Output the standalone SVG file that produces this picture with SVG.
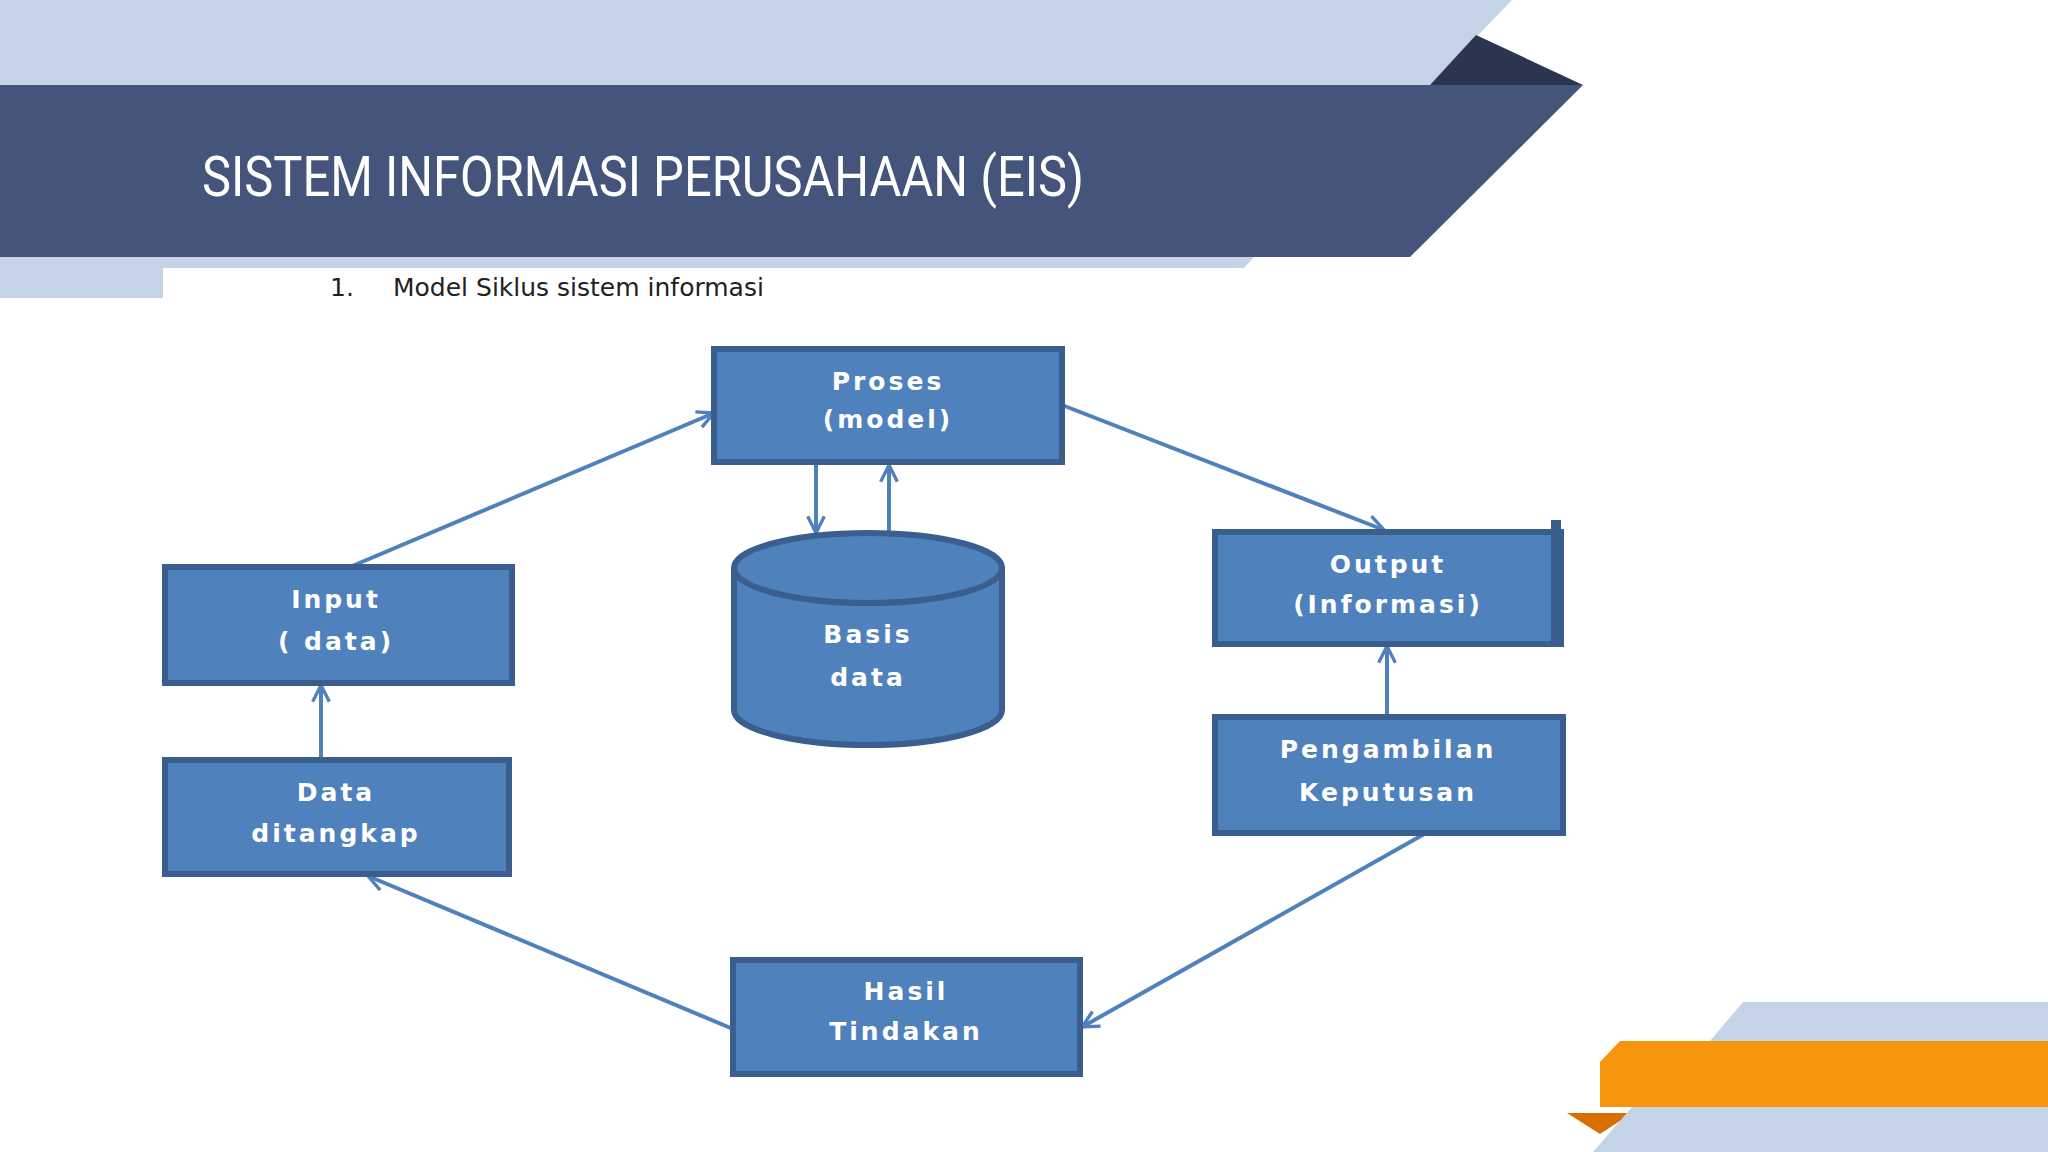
<svg xmlns="http://www.w3.org/2000/svg" width="2048" height="1152" viewBox="0 0 2048 1152">
<style>
.box{fill:#4f81bd;stroke:#3a5f8f;stroke-width:6}
.lbl{fill:#fff;font-family:"DejaVu Sans",sans-serif;font-size:25px;font-weight:bold;letter-spacing:3px;text-anchor:middle}
.con{stroke:#4f81bd;stroke-width:4;fill:none;marker-end:url(#ah)}
</style>
<defs>
<marker id="ah" viewBox="0 0 12 12" refX="11" refY="6" markerWidth="5" markerHeight="5" orient="auto" markerUnits="strokeWidth">
<path d="M1,1 L11,6 L1,11" fill="none" stroke="#4f81bd" stroke-width="2"/>
</marker>
</defs>
<rect width="2048" height="1152" fill="#fff"/>
<polygon points="0,0 1512,0 1430,85 0,85" fill="#c5d3e6"/>
<polygon points="1430,85 1476,35 1583,85" fill="#2b3550"/>
<polygon points="0,85 1583,85 1410,257 0,257" fill="#44547a"/>
<polygon points="0,257 1254,257 1244,268 163,268 163,298 0,298" fill="#c5d3e6"/>
<text x="202" y="196" fill="#fff" font-family="Roboto,sans-serif" font-size="56" textLength="882" lengthAdjust="spacingAndGlyphs">SISTEM INFORMASI PERUSAHAAN (EIS)</text>
<text x="330" y="296" fill="#222" font-family="DejaVu Sans,sans-serif" font-size="25">1.</text>
<text x="393" y="296" fill="#222" font-family="DejaVu Sans,sans-serif" font-size="25">Model Siklus sistem informasi</text>
<polygon points="1743,1002 2048,1002 2048,1041 1710,1041" fill="#c5d3e6"/>
<polygon points="1620,1041 2048,1041 2048,1107 1600,1107 1600,1062" fill="#f7950f"/>
<polygon points="1567,1113 1632,1113 1600,1134" fill="#d96f00"/>
<polygon points="1632,1107 2048,1107 2048,1152 1593,1152" fill="#c5d3e6"/>
<g id="connectors">
<line class="con" x1="350" y1="567" x2="714" y2="413"/>
<line class="con" x1="1062" y1="405" x2="1384" y2="530"/>
<line class="con" x1="1387" y1="717" x2="1387" y2="646"/>
<line class="con" x1="1426" y1="833" x2="1082" y2="1027"/>
<line class="con" x1="733" y1="1029" x2="368" y2="876"/>
<line class="con" x1="321" y1="760" x2="321" y2="685"/>
<line class="con" x1="816" y1="465" x2="816" y2="533"/>
<line class="con" x1="889" y1="533" x2="889" y2="465"/>
</g>
<g id="proses"><rect class="box" x="714" y="349" width="348" height="113"/><text class="lbl" x="888" y="390">Proses</text><text class="lbl" x="888" y="428">(model)</text></g>
<g id="input"><rect class="box" x="165" y="567" width="347" height="116"/><text class="lbl" x="336" y="608">Input</text><text class="lbl" x="336" y="650">( data)</text></g>
<g id="data"><rect class="box" x="165" y="760" width="344" height="114"/><text class="lbl" x="336" y="801">Data</text><text class="lbl" x="336" y="842">ditangkap</text></g>
<g id="output"><rect class="box" x="1215" y="532" width="346" height="112"/><line x1="1556" y1="520" x2="1556" y2="644" stroke="#3a5f8f" stroke-width="10"/><text class="lbl" x="1388" y="573">Output</text><text class="lbl" x="1388" y="613">(Informasi)</text></g>
<g id="pengambilan"><rect class="box" x="1215" y="717" width="348" height="116"/><text class="lbl" x="1388" y="758">Pengambilan</text><text class="lbl" x="1388" y="801">Keputusan</text></g>
<g id="hasil"><rect class="box" x="733" y="960" width="347" height="114"/><text class="lbl" x="906" y="1000">Hasil</text><text class="lbl" x="906" y="1040">Tindakan</text></g>
<g id="basis">
<path class="box" d="M734,568 L734,710 A134,35 0 0 0 1002,710 L1002,568"/>
<ellipse class="box" cx="868" cy="568" rx="134" ry="35"/>
<text class="lbl" x="868" y="643">Basis</text><text class="lbl" x="868" y="686">data</text>
</g>
</svg>
